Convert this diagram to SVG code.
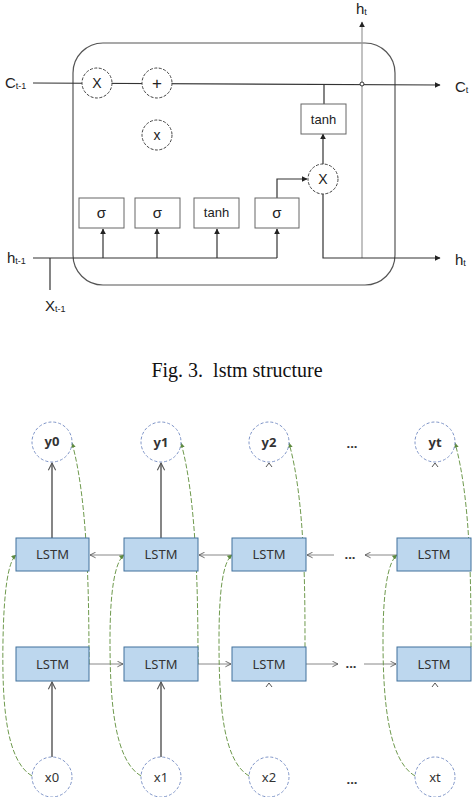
<svg xmlns="http://www.w3.org/2000/svg" width="474" height="797" viewBox="0 0 474 797">
<style>
.ln{stroke:#333;stroke-width:1.2;fill:none}
.gl{stroke:#999;stroke-width:1.2;fill:none}
.cir{fill:#fff;stroke:#444;stroke-width:1;stroke-dasharray:3 1.5}
.box{fill:#fff;stroke:#666;stroke-width:1}
.t{font-family:"Liberation Sans",Arial,sans-serif;fill:#222}
.lstm{fill:#bdd7ee;stroke:#41719c;stroke-width:1}
.bc{fill:#fff;stroke:#7f95c8;stroke-width:1;stroke-dasharray:3 2}
.arr{stroke:#444;stroke-width:1.3;fill:none}
.harr{stroke:#888;stroke-width:1;fill:none}
.gr{stroke:#6f9a4e;stroke-width:1;fill:none;stroke-dasharray:5 2}
.lt{font-family:"Noto Sans",Arial,sans-serif;font-size:13px;fill:#333}
</style>
<defs>
<marker id="fa" viewBox="0 0 10 10" refX="9" refY="5" markerWidth="5" markerHeight="5" orient="auto-start-reverse"><path d="M0,0 L10,5 L0,10 z" fill="#222"/></marker>
<marker id="oa" viewBox="0 0 10 10" refX="9" refY="5" markerWidth="7" markerHeight="7" orient="auto-start-reverse"><path d="M1,1 L9,5 L1,9" fill="none" stroke="#555" stroke-width="1.2"/></marker>
<marker id="ga" viewBox="0 0 10 10" refX="9" refY="5" markerWidth="5" markerHeight="5" orient="auto-start-reverse"><path d="M0,0 L10,5 L0,10 z" fill="#5e8a3f"/></marker>
</defs>

<!-- Fig 3 -->
<g id="cell"><rect x="73" y="43" width="322" height="242" rx="30" ry="30" fill="none" stroke="#555" stroke-width="1.2"/></g>
<g id="connectors-top">
<line class="gl" x1="362" y1="258" x2="362" y2="22" marker-end="url(#fa)"/>
<line class="ln" x1="33" y1="83" x2="440" y2="85" marker-end="url(#fa)"/>
<line class="ln" x1="324" y1="84" x2="324" y2="104"/>
<line class="ln" x1="323" y1="164" x2="323" y2="134" marker-end="url(#fa)"/>
<polyline class="ln" points="277,198 277,179 307,179" marker-end="url(#fa)"/>
<line class="ln" x1="33" y1="258" x2="277" y2="258"/>
<line class="ln" x1="50" y1="258" x2="50" y2="290"/>
<polyline class="ln" points="323,194 323,258 440,258" marker-end="url(#fa)"/>
<line class="ln" x1="103" y1="258" x2="103" y2="229" marker-end="url(#fa)"/>
<line class="ln" x1="157" y1="258" x2="157" y2="229" marker-end="url(#fa)"/>
<line class="ln" x1="217" y1="258" x2="217" y2="229" marker-end="url(#fa)"/>
<line class="ln" x1="277" y1="258" x2="277" y2="229" marker-end="url(#fa)"/>
<circle cx="362" cy="84" r="2" fill="#fff" stroke="#333" stroke-width="1"/>
</g>
<g id="mul-forget"><circle class="cir" cx="97" cy="83" r="15"/><text class="t" x="97" y="88" font-size="14" text-anchor="middle">X</text></g>
<g id="add"><circle class="cir" cx="157" cy="83" r="15"/><text class="t" x="157" y="88.5" font-size="17" text-anchor="middle">+</text></g>
<g id="mul-mid"><circle class="cir" cx="157" cy="135" r="15"/><text class="t" x="157" y="140" font-size="14" text-anchor="middle">x</text></g>
<g id="mul-out"><circle class="cir" cx="323" cy="179" r="15"/><text class="t" x="323" y="184" font-size="14" text-anchor="middle">X</text></g>
<g id="tanh-out"><rect class="box" x="301" y="104" width="45" height="30"/><text class="t" x="323.5" y="124" font-size="13" text-anchor="middle">tanh</text></g>
<g id="sig1"><rect class="box" x="79" y="198" width="45" height="30"/><text class="t" x="101.5" y="218" font-size="15" text-anchor="middle">σ</text></g>
<g id="sig2"><rect class="box" x="135" y="198" width="45" height="30"/><text class="t" x="157.5" y="218" font-size="15" text-anchor="middle">σ</text></g>
<g id="tanh-in"><rect class="box" x="194" y="198" width="45" height="30"/><text class="t" x="216.5" y="217" font-size="13" text-anchor="middle">tanh</text></g>
<g id="sig3"><rect class="box" x="255" y="198" width="44" height="30"/><text class="t" x="277" y="218" font-size="15" text-anchor="middle">σ</text></g>
<g id="labels-top" class="t">
<text x="5" y="88" font-size="15">C<tspan font-size="9" dy="1">t-1</tspan></text>
<text x="455" y="92" font-size="15">C<tspan font-size="9" dy="1">t</tspan></text>
<text x="356" y="14" font-size="15">h<tspan font-size="9" dy="1">t</tspan></text>
<text x="7" y="263" font-size="15">h<tspan font-size="9" dy="1">t-1</tspan></text>
<text x="455" y="265" font-size="15">h<tspan font-size="9" dy="1">t</tspan></text>
<text x="45" y="311" font-size="15">X<tspan font-size="9" dy="1">t-1</tspan></text>
</g>
<text x="237" y="377" font-family="Liberation Serif,'Times New Roman',serif" font-size="20" fill="#111" text-anchor="middle" xml:space="preserve">Fig. 3.  lstm structure</text>

<!-- Bottom diagram -->
<g id="connectors-bottom">
<line class="arr" x1="52" y1="538" x2="52" y2="463" marker-end="url(#oa)"/>
<line class="arr" x1="161" y1="538" x2="161" y2="463" marker-end="url(#oa)"/>
<line class="arr" x1="52" y1="757" x2="52" y2="682" marker-end="url(#oa)"/>
<line class="arr" x1="161" y1="757" x2="161" y2="682" marker-end="url(#oa)"/>
<path d="M266,467 L269,463 L272,467 M432,467 L435,463 L438,467 M266,687 L269,683 L272,687 M432,687 L435,683 L438,687" stroke="#555" stroke-width="1" fill="none"/>
<line class="harr" x1="124" y1="555" x2="90" y2="555" marker-end="url(#oa)"/>
<line class="harr" x1="232" y1="555" x2="199" y2="555" marker-end="url(#oa)"/>
<line class="harr" x1="334" y1="555" x2="307" y2="555" marker-end="url(#oa)"/>
<line class="harr" x1="397" y1="555" x2="365" y2="555" marker-end="url(#oa)"/>
<line class="harr" x1="89" y1="664" x2="123" y2="664" marker-end="url(#oa)"/>
<line class="harr" x1="198" y1="664" x2="231" y2="664" marker-end="url(#oa)"/>
<line class="harr" x1="306" y1="664" x2="338" y2="664" marker-end="url(#oa)"/>
<line class="harr" x1="364" y1="664" x2="396" y2="664" marker-end="url(#oa)"/>
<path class="gr" d="M32,776 C5,760 2,700 3,640 C4,590 8,562 16,555" marker-end="url(#ga)"/>
<path class="gr" d="M89,664 C89,600 88,500 72,443" marker-end="url(#ga)"/>
<path class="gr" d="M141,776 C114,760 110,700 110,640 C110,590 115,562 124,555" marker-end="url(#ga)"/>
<path class="gr" d="M198,664 C198,600 197,500 181,443" marker-end="url(#ga)"/>
<path class="gr" d="M249,776 C222,760 219,700 219,640 C219,590 223,562 232,555" marker-end="url(#ga)"/>
<path class="gr" d="M305,647 C305,590 305,500 289,443" marker-end="url(#ga)"/>
<path class="gr" d="M415,776 C388,760 383,700 383,640 C383,590 388,562 397,555" marker-end="url(#ga)"/>
<path class="gr" d="M471,647 C471,590 471,500 455,443" marker-end="url(#ga)"/>
</g>
<g id="y0"><circle class="bc" cx="52" cy="442" r="20"/><text class="lt" x="52" y="446" font-size="11" font-weight="bold" text-anchor="middle">y0</text></g>
<g id="y1"><circle class="bc" cx="161" cy="442" r="20"/><text class="lt" x="161" y="447" font-weight="bold" text-anchor="middle">y1</text></g>
<g id="y2"><circle class="bc" cx="269" cy="442" r="20"/><text class="lt" x="269" y="447" font-weight="bold" text-anchor="middle">y2</text></g>
<g id="yt"><circle class="bc" cx="435" cy="442" r="20"/><text class="lt" x="435" y="447" font-weight="bold" text-anchor="middle">yt</text></g>
<text class="lt" x="352" y="448" font-weight="bold" text-anchor="middle">...</text>
<g id="lstm-u1"><rect class="lstm" x="16" y="538" width="73" height="33"/><text class="lt" x="52.5" y="559" text-anchor="middle">LSTM</text></g>
<g id="lstm-u2"><rect class="lstm" x="124" y="538" width="74" height="33"/><text class="lt" x="161" y="559" text-anchor="middle">LSTM</text></g>
<g id="lstm-u3"><rect class="lstm" x="232" y="538" width="74" height="33"/><text class="lt" x="269" y="559" text-anchor="middle">LSTM</text></g>
<g id="lstm-u4"><rect class="lstm" x="397" y="538" width="74" height="33"/><text class="lt" x="434" y="559" text-anchor="middle">LSTM</text></g>
<text class="lt" x="350" y="559" font-weight="bold" text-anchor="middle">...</text>
<g id="lstm-l1"><rect class="lstm" x="16" y="647" width="73" height="34"/><text class="lt" x="52.5" y="669" text-anchor="middle">LSTM</text></g>
<g id="lstm-l2"><rect class="lstm" x="124" y="647" width="74" height="34"/><text class="lt" x="161" y="669" text-anchor="middle">LSTM</text></g>
<g id="lstm-l3"><rect class="lstm" x="232" y="647" width="74" height="34"/><text class="lt" x="269" y="669" text-anchor="middle">LSTM</text></g>
<g id="lstm-l4"><rect class="lstm" x="397" y="647" width="74" height="34"/><text class="lt" x="434" y="669" text-anchor="middle">LSTM</text></g>
<text class="lt" x="351" y="668" font-weight="bold" text-anchor="middle">...</text>
<g id="x0"><circle class="bc" cx="52" cy="777" r="20"/><text class="lt" x="52" y="782" text-anchor="middle">x0</text></g>
<g id="x1"><circle class="bc" cx="161" cy="777" r="20"/><text class="lt" x="161" y="782" text-anchor="middle">x1</text></g>
<g id="x2"><circle class="bc" cx="269" cy="777" r="20"/><text class="lt" x="269" y="782" text-anchor="middle">x2</text></g>
<g id="xt"><circle class="bc" cx="435" cy="777" r="20"/><text class="lt" x="435" y="782" text-anchor="middle">xt</text></g>
<text class="lt" x="352" y="784" font-weight="bold" text-anchor="middle">...</text>
</svg>
